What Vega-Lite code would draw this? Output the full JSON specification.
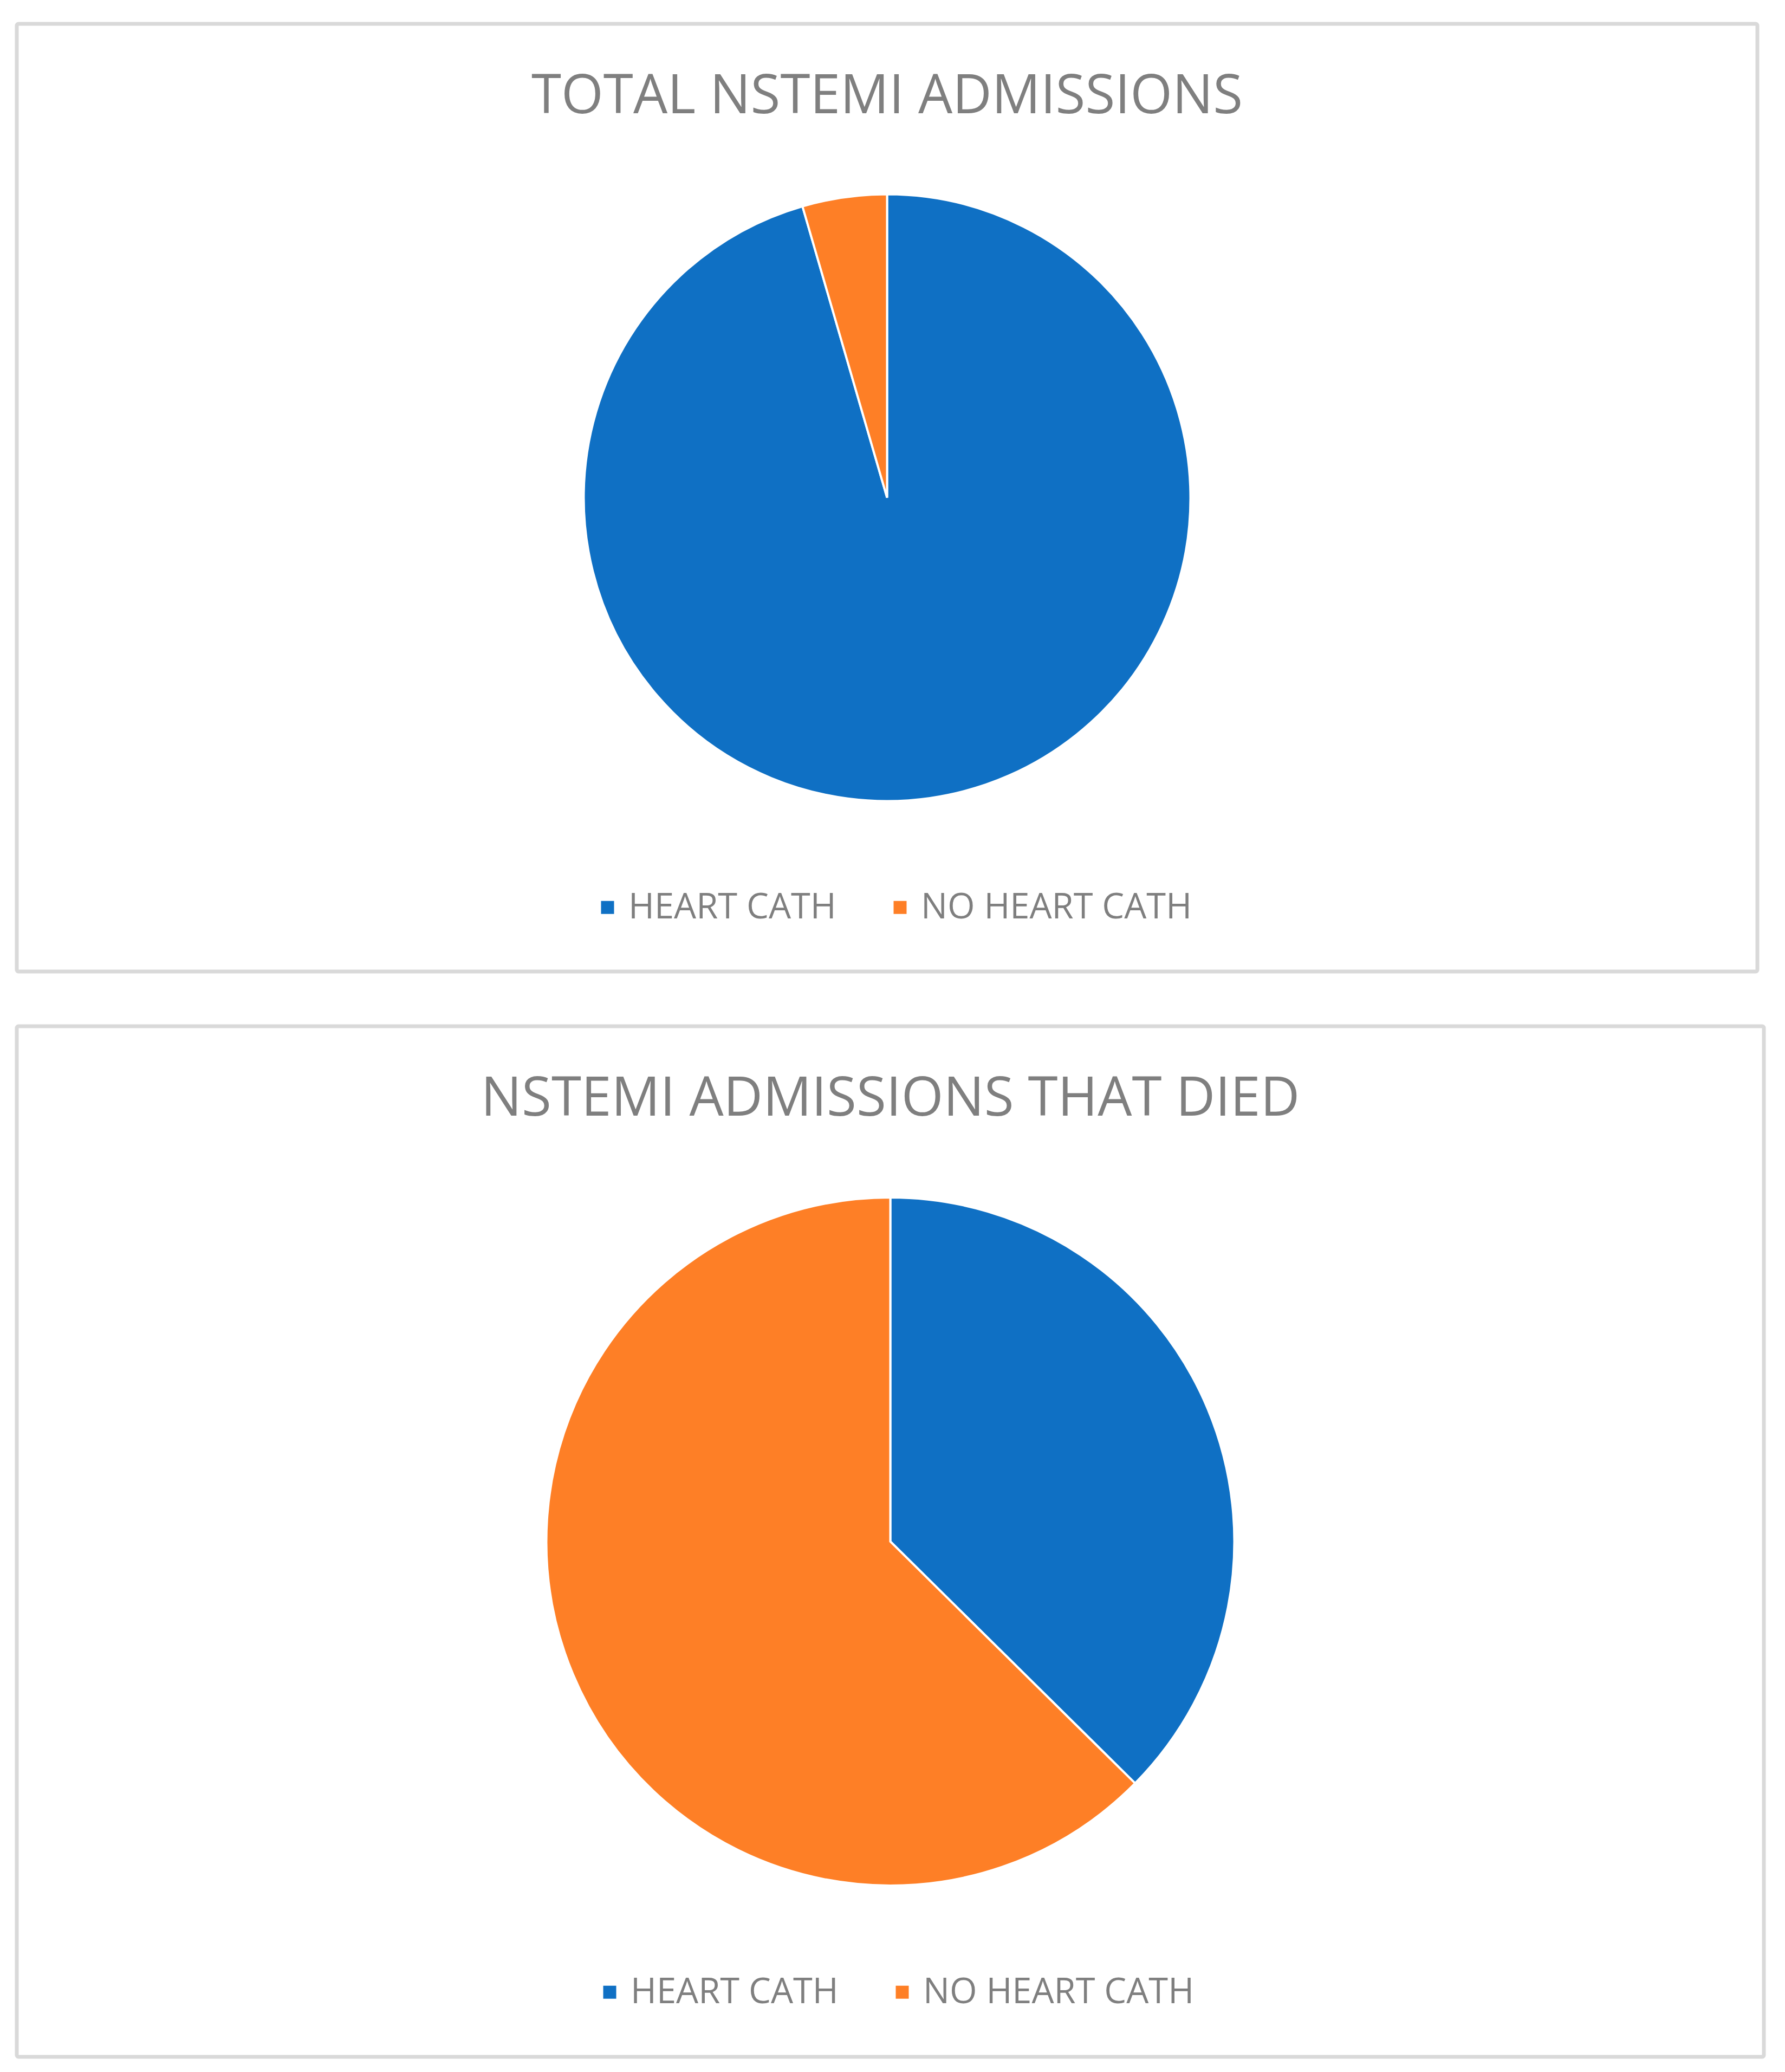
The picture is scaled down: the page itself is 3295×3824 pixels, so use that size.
{
  "$schema": "https://vega.github.io/schema/vega-lite/v6.json",
  "padding": {"left": 27, "top": 40, "right": 0, "bottom": 0},
  "background": "white",
  "spacing": 93,
  "vconcat": [
    {
      "width": 3213,
      "height": 1749,
      "view": {"stroke": "#D9D9D9", "strokeWidth": 7, "cornerRadius": 3},
      "title": {"text": "TOTAL NSTEMI ADMISSIONS"},
      "data": {
        "values": [
          {"group": "HEART CATH", "share": 95.5},
          {"group": "NO HEART CATH", "share": 4.5}
        ]
      },
      "mark": {"type": "arc", "outerRadius": 560, "stroke": "white", "strokeWidth": 4},
      "encoding": {
        "theta": {"field": "share", "type": "quantitative", "stack": true},
        "color": {
          "field": "group",
          "type": "nominal",
          "scale": {"domain": ["HEART CATH", "NO HEART CATH"], "range": ["#0F70C4", "#FE7F26"]},
          "legend": {"legendX": 1058, "legendY": 1598}
        }
      }
    },
    {
      "width": 3225,
      "height": 1902,
      "view": {"stroke": "#D9D9D9", "strokeWidth": 7, "cornerRadius": 3},
      "title": {"text": "NSTEMI ADMISSIONS THAT DIED"},
      "data": {
        "values": [
          {"group": "HEART CATH", "share": 37.4},
          {"group": "NO HEART CATH", "share": 62.6}
        ]
      },
      "mark": {"type": "arc", "outerRadius": 635, "stroke": "white", "strokeWidth": 4},
      "encoding": {
        "theta": {"field": "share", "type": "quantitative", "stack": true},
        "color": {
          "field": "group",
          "type": "nominal",
          "scale": {"domain": ["HEART CATH", "NO HEART CATH"], "range": ["#0F70C4", "#FE7F26"]},
          "legend": {"legendX": 1062, "legendY": 1750}
        }
      }
    }
  ],
  "resolve": {"scale": {"color": "independent"}, "legend": {"color": "independent"}},
  "config": {
    "view": {"stroke": "#D9D9D9", "strokeWidth": 7, "cornerRadius": 3},
    "title": {
      "font": "Open Sans",
      "fontSize": 100,
      "fontWeight": "normal",
      "color": "#7F7F7F",
      "anchor": "middle",
      "baseline": "alphabetic",
      "offset": -186
    },
    "legend": {
      "orient": "none",
      "direction": "horizontal",
      "title": null,
      "symbolType": "square",
      "symbolSize": 576,
      "symbolStrokeWidth": 0,
      "labelFont": "Open Sans",
      "labelFontSize": 65,
      "labelColor": "#7F7F7F",
      "labelOffset": 6,
      "columnPadding": 85,
      "labelLimit": 0
    }
  }
}
